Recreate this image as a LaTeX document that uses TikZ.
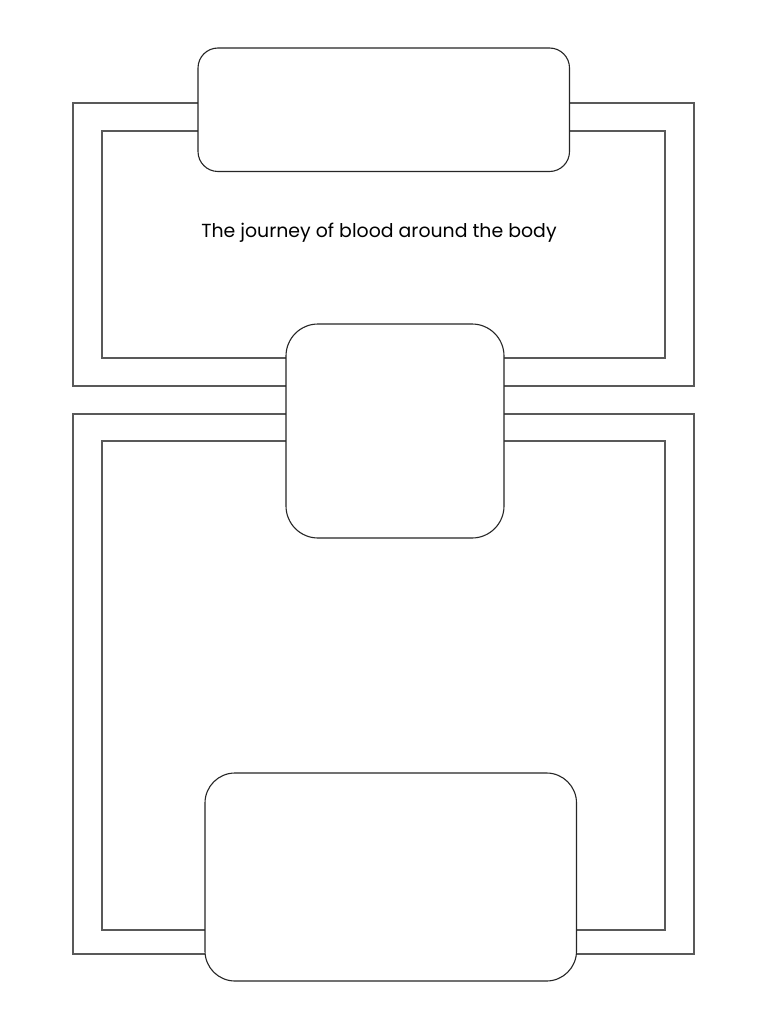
\documentclass[tikz,border=0pt]{standalone}
\usepackage{fontspec}
\setmainfont{Poppins}
\begin{document}
\begin{tikzpicture}[x=1pt,y=-1pt,
  frame/.style={draw=black!65,line width=1.2pt},
  panel/.style={draw=black!85,line width=1.1pt,fill=white,rectangle,inner sep=0pt,outer sep=0pt},
  title/.style={font=\fontsize{18.9}{22}\selectfont,text=black}]
\useasboundingbox[fill=white] (0,0) rectangle (768,1024);
% top loop
\draw[frame] (73,103) rectangle (694,386);
\draw[frame] (102,131) rectangle (665,358);
% bottom loop
\draw[frame] (73,414) rectangle (694,954);
\draw[frame] (102,441) rectangle (665,930);
% boxes
\node[panel,rounded corners=20pt,minimum width=371.5pt,minimum height=123.5pt] (lungs) at (383.75,109.75) {};
\node[panel,rounded corners=32pt,minimum width=218pt,minimum height=214pt] (heart) at (395,431) {};
\node[panel,rounded corners=30pt,minimum width=371.5pt,minimum height=208pt] (body) at (390.75,877) {};
\node[title] (t) at (379,233) {The journey of blood around the body};
\end{tikzpicture}
\end{document}
